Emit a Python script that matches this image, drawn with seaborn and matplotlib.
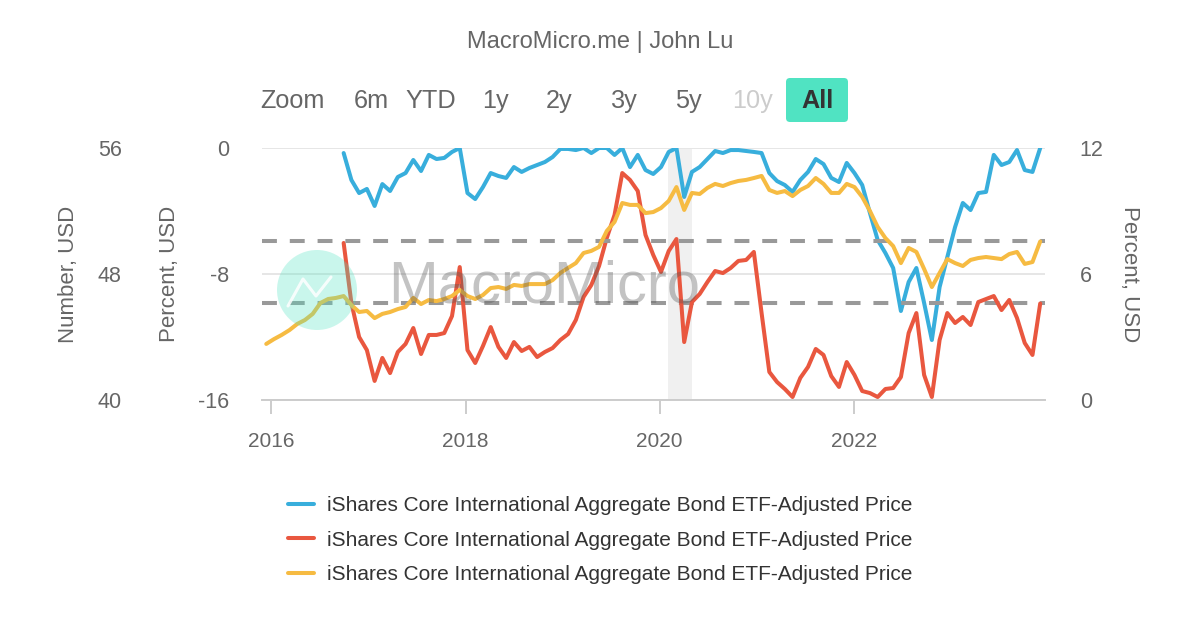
import numpy as np
import pandas as pd
import matplotlib
matplotlib.use("Agg")
import matplotlib.pyplot as plt
import seaborn as sns
from matplotlib.patches import FancyBboxPatch, Circle
from matplotlib.lines import Line2D

# ---------------- data ----------------
dates = pd.date_range("2015-12-13", "2023-12-02", periods=101)
series_start = 10  # blue & red series begin in Oct 2016

blue_drawdown = [
    -0.32, -2.03, -2.86, -2.60, -3.68, -2.29, -2.73, -1.84, -1.59, -0.76,
    -1.46, -0.44, -0.70, -0.63, -0.25, 0.00, -2.86, -3.24, -2.48, -1.59,
    -1.78, -1.90, -1.21, -1.52, -1.27, -1.08, -0.89, -0.57, -0.06, -0.06,
    -0.13, 0.00, -0.32, 0.00, 0.00, -0.44, 0.00, -1.21, -0.44, -1.40,
    -1.65, -1.21, -0.25, 0.00, -3.11, -1.52, -1.21, -0.70, -0.19, -0.32,
    -0.13, -0.13, -0.19, -0.25, -0.32, -1.59, -2.10, -2.35, -2.79, -2.03,
    -1.52, -0.70, -1.02, -1.90, -2.16, -0.95, -1.59, -2.35, -4.13, -5.84,
    -6.67, -7.62, -10.35, -8.51, -7.62, -9.84, -12.19, -8.83, -6.92, -5.02,
    -3.49, -3.94, -2.86, -2.79, -0.44, -1.08, -0.89, -0.13, -1.40, -1.52,
    0.00,
]
red_price = [
    49.97, 46.16, 44.00, 43.17, 41.21, 42.67, 41.71, 43.05, 43.56, 44.57,
    42.92, 44.13, 44.13, 44.25, 45.33, 48.44, 43.17, 42.35, 43.43, 44.63,
    43.37, 42.67, 43.68, 43.11, 43.37, 42.73, 43.05, 43.30, 43.81, 44.19,
    45.08, 46.54, 47.30, 48.51, 50.29, 51.75, 54.41, 53.97, 53.27, 50.48,
    49.21, 48.13, 49.46, 50.22, 43.68, 46.22, 46.73, 47.49, 48.19, 48.06,
    48.38, 48.83, 48.89, 49.40, 45.52, 41.78, 41.14, 40.70, 40.19, 41.40,
    42.10, 43.24, 42.86, 41.52, 40.83, 42.41, 41.59, 40.57, 40.44, 40.19,
    40.70, 40.76, 41.46, 44.25, 45.52, 41.59, 40.19, 43.81, 45.52, 44.89,
    45.27, 44.76, 46.22, 46.41, 46.60, 45.71, 46.35, 45.21, 43.62, 42.86,
    46.13,
]
orange_pct = [
    2.67, 2.90, 3.10, 3.33, 3.62, 3.81, 4.10, 4.62, 4.81, 4.86,
    4.95, 4.52, 4.19, 4.24, 3.90, 4.10, 4.19, 4.33, 4.43, 4.86,
    4.57, 4.76, 4.71, 4.81, 4.95, 5.24, 4.95, 4.81, 5.00, 5.33,
    5.38, 5.29, 5.48, 5.43, 5.52, 5.52, 5.52, 5.71, 6.05, 6.29,
    6.52, 7.00, 7.10, 7.29, 8.05, 8.48, 9.38, 9.29, 9.29, 8.90,
    8.95, 9.14, 9.48, 10.14, 9.05, 9.86, 9.81, 10.10, 10.29, 10.19,
    10.33, 10.43, 10.48, 10.57, 10.67, 10.00, 9.86, 9.95, 9.71, 10.00,
    10.19, 10.57, 10.29, 9.86, 9.86, 10.29, 10.14, 9.67, 9.00, 8.24,
    7.71, 7.33, 6.52, 7.24, 7.05, 6.24, 5.38, 6.05, 6.71, 6.52,
    6.38, 6.67, 6.76, 6.81, 6.76, 6.71, 6.95, 7.05, 6.48, 6.57,
    7.55,
]

series_label = "iShares Core International Aggregate Bond ETF-Adjusted Price"
legend_labels = [series_label, series_label, series_label]
x_tick_years = [2016, 2018, 2020, 2022]
left_outer_ticks = [40, 48, 56]
left_inner_ticks = [-16, -8, 0]
right_ticks = [0, 6, 12]
recession_span = ("2020-02-01", "2020-05-01")
range_buttons = ["Zoom", "6m", "YTD", "1y", "2y", "3y", "5y", "10y"]
active_button = "All"
title_text = "MacroMicro.me | John Lu"
watermark = "MacroMicro"

# ---------------- style ----------------
BLUE, RED, ORANGE = "#38aedc", "#e9573f", "#f6bb42"
TXT = "#666666"
sns.set_theme(style="white")
plt.rcParams["font.family"] = ["Liberation Sans", "DejaVu Sans"]

W, H = 1200, 630
fig = plt.figure(figsize=(W / 100, H / 100), dpi=100)
L, R, T, B = 262, 1045, 148, 400
ax = fig.add_axes([L / W, 1 - B / H, (R - L) / W, (B - T) / H])
ax_red = ax.twinx()
ax_org = ax.twinx()

blue_df = pd.DataFrame({"date": dates[series_start:], "value": blue_drawdown})
red_df = pd.DataFrame({"date": dates[series_start:], "value": red_price})
org_df = pd.DataFrame({"date": dates, "value": orange_pct})

LW = 2.9
# recession shading
ax.axvspan(pd.Timestamp(recession_span[0]), pd.Timestamp(recession_span[1]),
           color="#f0f0f0", zorder=0, lw=0)

sns.lineplot(data=blue_df, x="date", y="value", ax=ax, color=BLUE, lw=LW, zorder=3)
sns.lineplot(data=red_df, x="date", y="value", ax=ax_red, color=RED, lw=LW, zorder=3)
sns.lineplot(data=org_df, x="date", y="value", ax=ax_org, color=ORANGE, lw=LW, zorder=3)

# latest-value dashed lines
ax_red.axhline(red_price[-1], color="#999999", lw=2.9, dashes=(3.7, 3.2), zorder=1)
ax_org.axhline(orange_pct[-1], color="#999999", lw=2.9, dashes=(3.7, 3.2), zorder=1)

xmin, xmax = pd.Timestamp("2015-11-27"), pd.Timestamp("2023-12-20")
for a in (ax, ax_red, ax_org):
    a.set_xlim(xmin, xmax)
    for s in a.spines.values():
        s.set_visible(False)
    a.set_xlabel("")

ax.set_ylim(-16, 0)
ax_red.set_ylim(40, 56)
ax_org.set_ylim(0, 12)

ax.set_yticks(left_inner_ticks)
ax.set_yticklabels([str(t) for t in left_inner_ticks])
ax_red.set_yticks(left_outer_ticks)
ax_red.set_yticklabels([str(t) for t in left_outer_ticks])
ax_org.set_yticks(right_ticks)
ax_org.set_yticklabels([str(t) for t in right_ticks])

ax.yaxis.grid(True, color="#e6e6e6", lw=1.4)
ax.xaxis.grid(False)
ax.set_axisbelow(True)
ax.spines["bottom"].set_visible(True)
ax.spines["bottom"].set_color("#cccccc")
ax.spines["bottom"].set_linewidth(1.4)

ax.tick_params(axis="y", length=0, pad=23.5, labelsize=15.5, labelcolor=TXT)
ax_red.yaxis.set_ticks_position("left")
ax_red.yaxis.set_label_position("left")
ax_red.tick_params(axis="y", length=0, pad=101, labelsize=15.5, labelcolor=TXT)
ax_org.tick_params(axis="y", length=0, pad=25, labelsize=15.5, labelcolor=TXT)

ax.set_xticks([pd.Timestamp(f"{y}-01-01") for y in x_tick_years])
ax.set_xticklabels([str(y) for y in x_tick_years])
ax.tick_params(axis="x", bottom=True, length=10, width=1.4, color="#cccccc",
               pad=13, labelsize=15, labelcolor=TXT)
ax_red.tick_params(axis="x", bottom=False, labelbottom=False)
ax_org.tick_params(axis="x", bottom=False, labelbottom=False)

ax.set_ylabel("Percent, USD", fontsize=16, color=TXT, ha="center", va="center")
ax.yaxis.set_label_coords((170 - L) / (R - L), 0.5)
ax_red.set_ylabel("Number, USD", fontsize=16, color=TXT, ha="center", va="center")
ax_red.yaxis.set_label_coords((69 - L) / (R - L), 0.5)
ax_org.set_ylabel("Percent, USD", fontsize=16, color=TXT, rotation=270,
                  ha="center", va="center")
ax_org.yaxis.set_label_coords((1129 - L) / (R - L), 0.5)

# ---------------- title & range selector ----------------
fig.text(0.5, 1 - 42 / H, title_text, ha="center", va="center", fontsize=17, color=TXT)
btn_x = [292, 371, 431, 495, 559, 624, 688, 752]
for lab, bx in zip(range_buttons, btn_x):
    fig.text(bx / W, 1 - 101 / H, lab, ha="center", va="center", fontsize=18.2,
             color="#cccccc" if lab == "10y" else TXT)
fig.patches.append(FancyBboxPatch((786 / 100, (H - 122) / 100), 62 / 100, 44 / 100,
                                  boxstyle="round,pad=0,rounding_size=0.04",
                                  transform=fig.dpi_scale_trans, fc="#50e3c2",
                                  ec="none", zorder=1))
fig.text(817 / W, 1 - 101 / H, active_button, ha="center", va="center",
         fontsize=18.2, fontweight="bold", color="#333333", zorder=2)

# ---------------- watermark ----------------
fig.patches.append(Circle((317 / 100, (H - 290) / 100), 0.40,
                          transform=fig.dpi_scale_trans, fc="#4fe3c1",
                          alpha=0.3, ec="none", zorder=5))
zig = Line2D([288 / 100, 303 / 100, 316 / 100, 331 / 100],
             [(H - 306) / 100, (H - 279) / 100, (H - 296) / 100, (H - 277) / 100],
             transform=fig.dpi_scale_trans, color="white", lw=2.2, alpha=0.85, zorder=6)
fig.lines.append(zig)
fig.text(544 / W, 1 - 287 / H, watermark, ha="center", va="center",
         fontsize=43, color="#555555", alpha=0.35, zorder=6)

# ---------------- legend ----------------
handles = [Line2D([], [], color=c, lw=LW) for c in (BLUE, RED, ORANGE)]
fig.legend(handles, legend_labels, loc="upper left",
           bbox_to_anchor=(288 / W, 1 - 496 / H), frameon=False,
           fontsize=15, labelcolor="#333333", handlelength=1.25,
           handletextpad=0.6, labelspacing=0.75, borderpad=0, borderaxespad=0)

fig.savefig("out.png", dpi=100, facecolor="white")
